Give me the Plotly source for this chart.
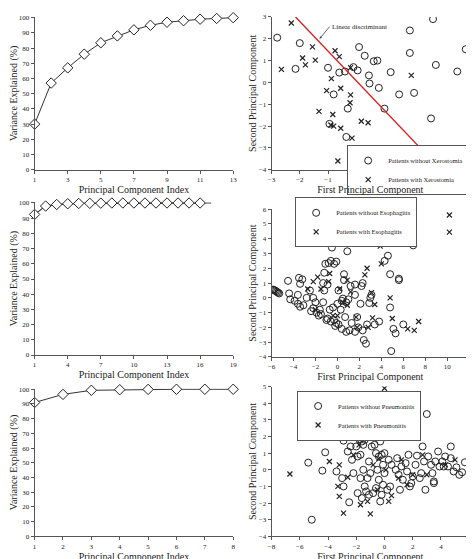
import plotly.graph_objects as go

W, H = 474, 559
FONT = "Liberation Serif"

# Scree data (cumulative variance explained, %)
pc1_idx = list(range(1, 14))
pc1_var = [30, 57, 67, 76, 83.5, 88, 92, 95, 97, 98, 99, 99.5, 100]
pc2_idx = list(range(1, 17))
pc2_var = [92.5, 98, 99, 99.5, 99.7, 99.8, 99.9, 100, 100, 100, 100, 100, 100, 100, 100, 100]
pc3_idx = list(range(1, 9))
pc3_var = [91, 96.5, 99.3, 99.7, 99.9, 100, 100, 100]

# Xerostomia
xer_no_x = [-2.8, -2.0, -2.15, -1.0, -0.6, -0.4, -0.1, 0.05, 0.1, 0.3, 0.62, 0.75, 0.45, 0.47, 0.8, -0.8, -0.3, 1.0, 1.22, 1.52, 2.05, 1.9, 1.9, 2.72, 2.82, 3.58, 3.88, 2.65, -0.95, -0.35]
xer_no_y = [2.05, 1.8, 0.62, 0.67, 0.45, 0.5, 0.7, 0.55, 1.62, 1.22, 0.97, 1.0, 0.32, -0.05, -0.25, -0.55, -1.2, -1.2, 0.47, -0.55, -0.48, 2.38, 1.35, 2.9, 0.8, 0.5, 1.52, -1.65, -1.9, -2.5]
xer_yes_x = [-2.3, -2.65, -1.9, -1.8, -1.55, -1.45, -0.75, -0.6, -0.2, -0.88, -1.05, -0.55, -0.2, -0.22, -1.32, -0.83, -0.9, -0.8, -0.55, 0.18, 0.42, -0.15, -0.65, 1.95]
xer_yes_y = [2.72, 0.6, 1.12, 0.8, 1.63, 1.02, 1.45, 1.18, 0.68, 0.17, -0.38, -0.27, -0.57, -0.93, -1.33, -1.47, -1.95, -2.0, -2.1, -1.78, -1.85, -2.55, -3.6, 0.32]
disc_x = [-2.15, 3.0]
disc_y = [3.0, -4.0]

# Esophagitis
eso_no = [(-5.9, 0.55), (-5.8, 0.55), (-5.7, 0.5), (-5.6, 0.45), (-5.5, 0.4), (-5.4, 0.35), (-5.3, 0.3),
          (-4.5, 1.15), (-4.4, 0.3), (-4.3, -0.1), (-3.9, -0.2), (-3.6, 0.2), (-3.5, 1.35), (-3.4, 0.95), (-3.2, 1.25),
          (-3.6, -0.4), (-3.4, -0.6), (-3.1, -0.5), (-2.8, 0.0), (-2.5, 0.5), (-2.2, 0.0), (-2.0, -0.3), (-2.2, -0.7),
          (-1.9, -1.0), (-1.7, -1.2), (-1.5, -1.1), (-1.3, -0.3), (-1.2, 0.5), (-1.3, 1.0), (-1.2, 1.7), (-1.1, 2.3),
          (-0.8, 2.35), (-0.6, 2.5), (-0.5, 3.4), (-0.3, 2.3), (-0.1, 2.45), (-0.9, 0.9), (-0.7, -0.8), (-0.9, -1.4),
          (-0.6, -1.6), (-0.3, -1.5), (-0.1, -1.7), (0.1, -1.8), (0.0, -0.4), (0.1, 0.5), (0.3, -0.8), (0.5, -0.05),
          (0.6, 1.6), (0.6, 1.2), (0.7, -1.3), (0.9, 3.15), (0.8, -0.3), (1.0, -0.1), (1.1, -2.2), (1.3, -1.7),
          (1.3, 5.0), (1.6, 0.9), (1.6, 0.2), (1.8, -1.3), (1.9, -2.0), (2.1, -0.4), (2.2, 0.8), (2.3, 1.0),
          (2.3, -2.2), (2.4, -2.85), (2.6, -3.1), (2.7, -1.8), (2.9, -0.35), (3.0, 0.0), (3.1, 0.2), (3.4, -1.8),
          (3.8, -1.6), (4.3, 2.5), (4.6, 2.85), (4.8, 1.6), (4.8, -0.65), (4.9, -3.6), (5.1, -2.1), (5.3, -2.4),
          (5.6, 1.2), (5.6, 1.3), (6.0, -1.8), (6.9, 3.55), (0.4, -0.2), (-0.2, -1.9), (-1.6, -0.8), (-2.4, -0.9),
          (-1.0, -1.5), (0.4, -2.1), (1.6, -2.3), (0.8, -2.3), (-0.4, -0.65), (1.2, 0.8)]
eso_yes = [(-2.7, 0.6), (-2.2, 1.1), (-1.7, 3.75), (-1.8, 1.4), (-1.5, 0.6), (-0.7, 1.65), (-0.8, 1.1), (0.1, 3.8),
           (0.2, 0.6), (0.9, 1.2), (1.2, 0.4), (0.5, -0.3), (0.9, -0.5), (1.7, -1.3), (2.5, 1.55), (2.7, 2.0),
           (3.1, 0.35), (3.2, -1.35), (3.4, -0.45), (3.5, 3.75), (3.9, 3.5), (4.0, 2.3), (4.8, 0.0), (5.0, -1.4),
           (6.4, -2.1), (7.0, -2.2), (7.4, -1.6), (10.2, 5.6), (10.2, 4.45), (-2.0, -0.8), (-0.4, -1.2),
           (2.8, -2.0), (1.8, -2.0), (0.0, -1.2)]

# Pneumonitis
pne_no = [(-5.4, 0.43), (-5.15, -3.0), (-4.4, -0.05), (-4.2, 1.05), (-3.4, -0.1), (-3.1, 2.35), (-3.0, -0.5),
          (-2.9, 1.75), (-2.9, -1.0), (-2.6, 2.35), (-2.6, 1.1), (-2.5, -1.95), (-2.3, 0.6), (-2.1, 2.6), (-2.0, 2.05),
          (-2.0, 1.4), (-1.9, 0.8), (-1.8, 1.85), (-1.6, 1.7), (-1.5, 1.5), (-1.4, 1.8), (-1.7, 0.9), (-1.5, 0.0),
          (-1.7, -0.5), (-1.9, -1.4), (-1.6, -1.7), (-1.3, -1.3), (-1.2, -0.5), (-1.1, 0.5), (-0.9, 1.4), (-0.7, 1.5),
          (-0.6, 1.0), (-0.4, 0.8), (-0.3, 1.7), (-0.2, 0.9), (-0.1, 0.3), (0.0, -0.2), (-0.4, -0.6), (-0.6, -1.1),
          (-0.8, -1.4), (-0.3, -1.9), (-0.1, -0.9), (0.2, -1.2), (0.3, 0.6), (0.5, 0.3), (0.6, 2.35), (0.8, 0.0),
          (1.0, -0.3), (1.1, -1.2), (1.3, -0.6), (1.5, 0.4), (1.6, -0.1), (1.7, 0.9), (1.8, -1.0), (2.0, -0.4),
          (2.2, 0.3), (2.3, 0.85), (2.5, -0.5), (2.7, 1.4), (2.8, 0.5), (2.9, -1.2), (3.0, 3.35), (3.1, 0.8),
          (3.3, 0.3), (3.4, -0.2), (3.5, -0.8), (3.6, 0.5), (3.8, 1.1), (3.9, 0.2), (4.1, 0.5), (4.3, 0.8),
          (4.5, 0.2), (4.7, 1.4), (4.7, 0.7), (4.9, -0.1), (5.1, 0.15), (5.3, -0.3), (5.5, -0.15), (5.7, 0.45),
          (4.2, 0.2), (2.6, -0.2), (1.2, 0.2), (-1.0, -0.2), (-2.2, -0.2), (-1.4, -1.0), (0.4, -1.0), (1.9, -0.8),
          (-0.5, 0.0), (0.9, 0.7), (-2.4, 1.4), (0.0, 1.0), (-1.1, -1.5), (-0.2, -1.5), (3.5, -0.7)]
pne_yes = [(-6.7, -0.25), (-4.6, 2.45), (-3.9, 0.5), (-3.1, 2.2), (-3.2, 0.3), (-3.3, -1.0), (-3.2, -1.6),
           (-2.9, -2.6), (-2.6, -0.45), (-2.2, 0.9), (-1.8, 1.5), (-1.7, -2.1), (-1.2, -1.9), (-1.0, 2.0),
           (-1.0, -2.65), (-0.8, 0.3), (-0.4, 0.65), (0.0, 4.9), (0.3, -1.9), (0.5, -1.55), (0.1, 0.0), (1.2, 0.6),
           (1.0, -0.5), (2.0, -0.3), (2.7, 0.9), (3.0, -0.3), (4.3, 0.3), (5.0, 0.6), (-0.5, -1.2), (1.6, -0.9)]

fig = go.Figure()


def dom_x(a, b):
    return [a / W, b / W]


def dom_y(top, bottom):
    return [1 - bottom / H, 1 - top / H]


axis_style = dict(showline=True, linecolor="#555", linewidth=1, ticks="outside", ticklen=3,
                  tickcolor="#555", showgrid=False, zeroline=False, mirror=False,
                  tickfont=dict(family=FONT, size=7, color="#222"))
title_font = dict(family=FONT, size=10, color="#222")

panels = [  # (axis id, x domain, y domain)
    ("", dom_x(23, 225), dom_y(5, 160)),
    ("2", dom_x(264, 465), dom_y(5, 160)),
    ("3", dom_x(23, 225), dom_y(193, 348)),
    ("4", dom_x(264, 465), dom_y(200, 350)),
    ("5", dom_x(23, 225), dom_y(382, 532)),
    ("6", dom_x(264, 465), dom_y(380, 532)),
]

scree = [(pc1_idx, pc1_var, [1, 13], [1, 3, 5, 7, 9, 11, 13]),
         (pc2_idx, pc2_var, [1, 19], [1, 4, 7, 10, 13, 16, 19]),
         (pc3_idx, pc3_var, [1, 8], list(range(1, 9)))]

for i, (ax, xd, yd) in enumerate(panels):
    xa = dict(axis_style, domain=xd, anchor="y" + ax)
    ya = dict(axis_style, domain=yd, anchor="x" + ax)
    if i % 2 == 0:
        idx, var, rng, tv = scree[i // 2]
        xa.update(range=rng, tickvals=tv, title=dict(text="Principal Component Index", font=title_font, standoff=0))
        ya.update(range=[0, 100.5], dtick=10, title=dict(text="Variance Explained (%)", font=title_font, standoff=0))
        if i == 2:
            fig.add_trace(go.Scatter(x=idx + [17], y=var + [100], mode="lines", line=dict(color="#333", width=1),
                                     xaxis="x" + ax, yaxis="y" + ax, showlegend=False, cliponaxis=False))
        fig.add_trace(go.Scatter(x=idx, y=var, mode="lines+markers", line=dict(color="#333", width=1),
                                 marker=dict(symbol="diamond", size=8, color="white", line=dict(color="#222", width=1)),
                                 xaxis="x" + ax, yaxis="y" + ax, showlegend=False, cliponaxis=False))
    else:
        xa.update(title=dict(text="First Principal Component", font=title_font, standoff=0))
        ya.update(title=dict(text="Second Principal Component", font=title_font, standoff=0))
    fig.update_layout({"xaxis" + ax: xa, "yaxis" + ax: ya})

circ = dict(symbol="circle-open", size=7, color="#222", line=dict(width=1))
cross = dict(symbol="x-thin-open", size=5, color="#222", line=dict(width=1.2))


def add_pts(xs, ys, mk, ax, name, lg):
    fig.add_trace(go.Scatter(x=xs, y=ys, mode="markers", marker=mk, name=name, legend=lg,
                             xaxis="x" + ax, yaxis="y" + ax))


add_pts(xer_no_x, xer_no_y, circ, "2", "Patients without Xerostomia", "legend")
add_pts(xer_yes_x, xer_yes_y, cross, "2", "Patients with Xerostomia", "legend")
fig.add_trace(go.Scatter(x=disc_x, y=disc_y, mode="lines", line=dict(color="#d62020", width=1.3),
                         xaxis="x2", yaxis="y2", showlegend=False))
add_pts([p[0] for p in eso_no], [p[1] for p in eso_no], circ, "4", "Patients without Esophagitis", "legend2")
add_pts([p[0] for p in eso_yes], [p[1] for p in eso_yes], cross, "4", "Patients with Esophagitis", "legend2")
add_pts([p[0] for p in pne_no], [p[1] for p in pne_no], circ, "6", "Patients without Pneumonitis", "legend3")
add_pts([p[0] for p in pne_yes], [p[1] for p in pne_yes], cross, "6", "Patients with Pneumonitis", "legend3")

fig.update_layout(
    xaxis2=dict(range=[-3, 4], dtick=1), yaxis2=dict(range=[-4, 3], dtick=1),
    xaxis4=dict(range=[-6, 12], dtick=2), yaxis4=dict(range=[-4, 6], dtick=1),
    xaxis6=dict(range=[-8, 6], dtick=2), yaxis6=dict(range=[-4, 5], dtick=1),
)

leg = dict(font=dict(family=FONT, size=6.5, color="#222"), bgcolor="white", bordercolor="#555",
           borderwidth=1, tracegroupgap=0, itemsizing="trace", itemwidth=30)
fig.update_layout(
    legend=dict(leg, x=465 / W, y=1 - 135 / H, xanchor="right", yanchor="top"),
    legend2=dict(leg, x=288 / W, y=1 - 188 / H, xanchor="left", yanchor="top"),
    legend3=dict(leg, x=290 / W, y=1 - 384 / H, xanchor="left", yanchor="top"),
)

fig.add_annotation(x=-1.3, y=2.0, xref="x2", yref="y2", ax=10, ay=-12, text="Linear discriminant",
                   showarrow=True, arrowhead=2, arrowsize=0.6, arrowwidth=0.8, xanchor="left",
                   font=dict(family=FONT, size=7, color="#222"))

fig.update_layout(width=W, height=H, margin=dict(l=0, r=0, t=0, b=0),
                  plot_bgcolor="white", paper_bgcolor="white",
                  font=dict(family=FONT))

fig.write_html("out.html")
